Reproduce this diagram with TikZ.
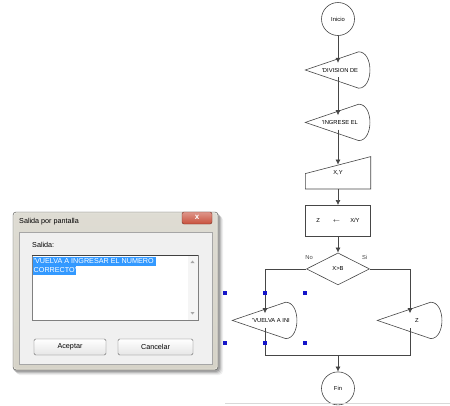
\documentclass[tikz,border=0pt]{standalone}
\usepackage{fontspec}
\setmainfont{Liberation Sans}
\usetikzlibrary{arrows.meta, positioning, shapes.geometric, calc}
\definecolor{lgray}{RGB}{70, 70, 70}
\definecolor{hblue}{RGB}{20, 20, 200}
\definecolor{selblue}{RGB}{51, 153, 255}
\definecolor{wframe}{RGB}{214, 211, 200}
\definecolor{wclient}{RGB}{240, 240, 240}
\definecolor{wred}{RGB}{200, 80, 60}
\newcommand{\qs}{\textquotesingle}
% pantalla (display) outline around a node
\newcommand{\dispshape}[1]{%
  \draw[ln] (#1.west) -- ([xshift=-12pt]#1.north east)
    .. controls ([xshift=3pt]#1.north east) and ([xshift=3pt]#1.south east)
    .. ([xshift=-12pt]#1.south east) -- cycle;}

\begin{document}
\begin{tikzpicture}[x=1pt, y=-1pt,
      node distance=16pt,
      ln/.style={draw=lgray, line width=0.6pt},
      arr/.style={ln, -{Latex[length=5pt, width=5pt]}},
      term/.style={circle, ln, fill=white, minimum size=33pt, inner sep=0pt,
                   font=\fontsize{5.8}{7}\selectfont},
      disp/.style={rectangle, minimum width=65pt, minimum height=36pt,
                   inner sep=0pt, font=\fontsize{5.8}{7}\selectfont},
      inbox/.style={rectangle, minimum width=65pt, minimum height=32pt,
                    inner sep=0pt, font=\fontsize{5.8}{7}\selectfont},
      pbox/.style={rectangle, ln, minimum width=65pt, minimum height=31pt,
                   inner sep=0pt, font=\fontsize{5.8}{7}\selectfont},
      cond/.style={diamond, ln, minimum width=63pt, minimum height=32pt,
                   inner sep=0pt, font=\fontsize{5.8}{7}\selectfont},
      lbl/.style={font=\fontsize{5.8}{7}\selectfont, text=lgray},
      wtxt/.style={font=\fontsize{7.2}{8.5}\selectfont, anchor=west, inner sep=0pt},
      btn/.style={draw=gray!80!black, rounded corners=1.5pt,
                  top color=white, bottom color=gray!20},
      handle/.style={fill=hblue},
    ]
      \useasboundingbox (0,0) rectangle (450,405);

      % flowchart
      \node[term] (ini) at (338,19) {Inicio};
      \node[disp, below=of ini] (d1) {\hspace*{4pt}\qs DIVISION DE};
      \node[disp, below=of d1]  (d2) {\hspace*{4pt}\qs INGRESE EL};
      \node[inbox, below=of d2] (rd) {\raisebox{-3pt}{X,Y}};
      \node[pbox, below=of rd]  (pr) {Z\hspace{13pt}$\leftarrow$\hspace{10pt}X/Y};
      \node[cond, below=of pr]  (cd) {X>B};
      \node[disp, below=17pt of cd, xshift=-73pt] (d3) {\hspace*{12pt}\qs VUELVA A INI};
      \node[disp, below=17pt of cd, xshift=72pt]  (d4) {\hspace*{14pt}Z};
      \dispshape{d1}
      \dispshape{d2}
      \dispshape{d3}
      \dispshape{d4}
      \draw[ln] (rd.south west) -- (rd.south east) -- (rd.north east)
                -- ([yshift=-17pt]rd.north west) -- cycle;
      \coordinate (jn) at ($(cd |- d3.south)+(0,17)$);
      \node[term, below=16pt of jn] (fin) {Fin};

      \node[lbl] (no) at ([xshift=3pt, yshift=11pt]cd.west) {No};
      \node[lbl] (si) at ([xshift=-5pt, yshift=11pt]cd.east) {Si};

      \draw[arr] (ini) -- ([yshift=-11pt]d1.north);
      \draw[arr] ([yshift=11pt]d1.south) -- ([yshift=-11pt]d2.north);
      \draw[arr] ([yshift=11pt]d2.south) -- ([yshift=-8pt]rd.north);
      \draw[arr] (rd) -- (pr);
      \draw[arr] (pr) -- (cd);
      \draw[arr] (cd.west) -| ([yshift=-11pt]d3.north);
      \draw[arr] (cd.east) -| ([yshift=-11pt]d4.north);
      \draw[ln] ([yshift=11pt]d3.south) |- (jn) -| ([yshift=11pt]d4.south);
      \draw[arr] (jn) -- (fin);

      % selection handles
      \foreach \hx in {225, 265, 305}
        \foreach \hy in {293, 343}
          \fill[handle] (\hx-2,\hy-2) rectangle (\hx+2,\hy+2);

      \draw[gray!30, line width=1.5pt] (225,403.5) -- (450,403.5);

      % dialog window
      \foreach \s/\o in {4/0.06, 3/0.08, 2/0.12, 1/0.16}
        \fill[black, opacity=\o, rounded corners=4pt]
          (13+\s-1,212+\s) rectangle (218+\s+1,370+\s+1);
      \draw[gray!60!black, rounded corners=3pt, top color=wframe!80!white,
            bottom color=wframe] (13,212) rectangle (218,370);
      \draw[white, rounded corners=2pt, opacity=0.6] (14,213) rectangle (217,369);
      \node[wtxt] (tit) at (19,222) {Salida por pantalla};
      \draw[wred!60!black, rounded corners=2pt, top color=wred!60!white,
            bottom color=wred] (182,212) rectangle (212,224);
      \node[font=\bfseries\fontsize{8}{8}\selectfont, text=white, inner sep=0pt]
        (cls) at (197,217.5) {x};

      \draw[gray!70, fill=wclient] (19,232) rectangle (212,364);
      \node[wtxt] (sal) at (32,245) {Salida:};

      \draw[gray, fill=white] (32,255) rectangle (198,320);
      \draw[gray!50!black] (32,255) -- (198,255);
      \fill[gray!8] (188,256) rectangle (197.5,319.5);
      \fill[gray!70] (190.5,263) -- (194.5,263) -- (192.5,260.5) -- cycle;
      \fill[gray!70] (190.5,312) -- (194.5,312) -- (192.5,314.5) -- cycle;
      \fill[selblue] (33,257) rectangle (156,266);
      \fill[selblue] (33,266) rectangle (76,275);
      \node[wtxt, text=white] (out1) at (33.5,261.5) {\qs VUELVA A INGRESAR EL NUMERO};
      \node[wtxt, text=white] (out2) at (33.5,270.5) {CORRECTO\qs};

      \draw[btn] (34,339) rectangle (106,355);
      \draw[btn] (118,339) rectangle (193,355);
      \node[font=\fontsize{7.2}{8}\selectfont, inner sep=0pt] (ok) at (70,347) {Aceptar};
      \node[font=\fontsize{7.2}{8}\selectfont, inner sep=0pt] (cn) at (155.5,347) {Cancelar};
    \end{tikzpicture}
\end{document}
